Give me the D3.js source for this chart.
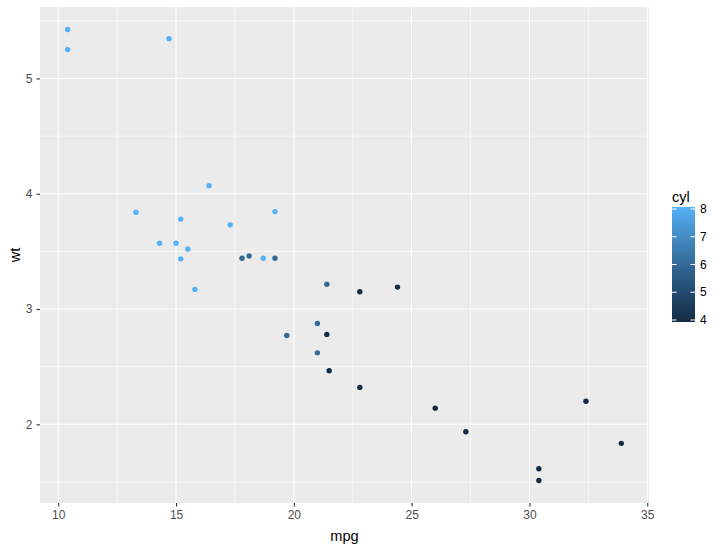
<!DOCTYPE html>
<html>
<head>
<meta charset="utf-8">
<script src="https://cdn.jsdelivr.net/npm/d3@7"></script>
<style>
  body { margin: 0; background: #fff; }
  text { font-family: "Liberation Sans", Arial, sans-serif; }
</style>
</head>
<body>
<div id="chart"></div>
<script>
// mtcars: mpg, wt, cyl
const mpg = [21.0, 21.0, 22.8, 21.4, 18.7, 18.1, 14.3, 24.4, 22.8, 19.2, 17.8, 16.4, 17.3, 15.2, 10.4, 10.4,
  14.7, 32.4, 30.4, 33.9, 21.5, 15.5, 15.2, 13.3, 19.2, 27.3, 26.0, 30.4, 15.8, 19.7, 15.0, 21.4];
const wt = [2.620, 2.875, 2.320, 3.215, 3.440, 3.460, 3.570, 3.190, 3.150, 3.440, 3.440, 4.070, 3.730, 3.780,
  5.250, 5.424, 5.345, 2.200, 1.615, 1.835, 2.465, 3.520, 3.435, 3.840, 3.845, 1.935, 2.140, 1.513, 3.170,
  2.770, 3.570, 2.780];
const cyl = [6, 6, 4, 6, 8, 6, 8, 4, 4, 6, 6, 8, 8, 8, 8, 8, 8, 4, 4, 4, 4, 8, 8, 8, 8, 4, 4, 4, 8, 6, 8, 4];
const xTicks = [10, 15, 20, 25, 30, 35];
const yTicks = [2, 3, 4, 5];
const cylTicks = [4, 5, 6, 7, 8];

const W = 723, H = 550;
const panel = { left: 40, top: 7, right: 649, bottom: 503 };

const svg = d3.select("#chart").append("svg").attr("width", W).attr("height", H);

// ggplot-style 5% expansion
const xr = d3.extent(mpg), yr = d3.extent(wt);
const xe = (xr[1] - xr[0]) * 0.05, ye = (yr[1] - yr[0]) * 0.05;
const x = d3.scaleLinear().domain([xr[0] - xe, xr[1] + xe]).range([panel.left, panel.right]);
const y = d3.scaleLinear().domain([yr[0] - ye, yr[1] + ye]).range([panel.bottom, panel.top]);
const color = d3.scaleLinear().domain([4, 8]).range(["#132B43", "#56B1F7"]).interpolate(d3.interpolateLab);

// panel background
svg.append("rect")
  .attr("x", panel.left).attr("y", panel.top)
  .attr("width", panel.right - panel.left).attr("height", panel.bottom - panel.top)
  .attr("fill", "#EBEBEB");

// minor grid
const xMinor = [7.5, 12.5, 17.5, 22.5, 27.5, 32.5].filter(v => v >= x.domain()[0] && v <= x.domain()[1]);
const yMinor = [1.5, 2.5, 3.5, 4.5, 5.5].filter(v => v >= y.domain()[0] && v <= y.domain()[1]);
const grid = svg.append("g");
grid.selectAll(".xmin").data(xMinor).join("line")
  .attr("x1", d => x(d)).attr("x2", d => x(d)).attr("y1", panel.top).attr("y2", panel.bottom)
  .attr("stroke", "#fff").attr("stroke-width", 0.55);
grid.selectAll(".ymin").data(yMinor).join("line")
  .attr("y1", d => y(d)).attr("y2", d => y(d)).attr("x1", panel.left).attr("x2", panel.right)
  .attr("stroke", "#fff").attr("stroke-width", 0.55);
// major grid
grid.selectAll(".xmaj").data(xTicks).join("line")
  .attr("x1", d => x(d)).attr("x2", d => x(d)).attr("y1", panel.top).attr("y2", panel.bottom)
  .attr("stroke", "#fff").attr("stroke-width", 1.1);
grid.selectAll(".ymaj").data(yTicks).join("line")
  .attr("y1", d => y(d)).attr("y2", d => y(d)).attr("x1", panel.left).attr("x2", panel.right)
  .attr("stroke", "#fff").attr("stroke-width", 1.1);

// axes
const xAxis = svg.append("g").attr("transform", `translate(0,${panel.bottom})`)
  .call(d3.axisBottom(x).tickValues(xTicks).tickFormat(d3.format("d")).tickSize(3.5).tickPadding(4));
const yAxis = svg.append("g").attr("transform", `translate(${panel.left},0)`)
  .call(d3.axisLeft(y).tickValues(yTicks).tickFormat(d3.format("d")).tickSize(3.5).tickPadding(4));
[xAxis, yAxis].forEach(a => {
  a.select(".domain").remove();
  a.selectAll(".tick line").attr("stroke", "#333333").attr("stroke-width", 1.1);
  a.selectAll(".tick text").attr("fill", "#4D4D4D").attr("font-size", "12px")
    .style("font-family", "'Liberation Sans', Arial, sans-serif");
});

// points
svg.append("g").selectAll("circle")
  .data(mpg.map((m, i) => ({ mpg: m, wt: wt[i], cyl: cyl[i] })))
  .join("circle")
  .attr("cx", d => x(d.mpg)).attr("cy", d => y(d.wt)).attr("r", 2.7)
  .attr("fill", d => color(d.cyl));

// axis titles
svg.append("text").attr("x", (panel.left + panel.right) / 2).attr("y", 541)
  .attr("text-anchor", "middle").attr("font-size", "14.6px").attr("fill", "#000").text("mpg");
svg.append("text").attr("transform", `translate(20,${(panel.top + panel.bottom) / 2}) rotate(-90)`)
  .attr("text-anchor", "middle").attr("font-size", "14.6px").attr("fill", "#000").text("wt");

// legend colorbar
const bar = { x: 672, w: 23, top: 207, bottom: 322 };
const lg = svg.append("g");
const defs = svg.append("defs");
const grad = defs.append("linearGradient").attr("id", "cylgrad")
  .attr("x1", "0").attr("y1", "1").attr("x2", "0").attr("y2", "0");
d3.range(0, 1.0001, 0.05).forEach(t => {
  grad.append("stop").attr("offset", t).attr("stop-color", color(4 + 4 * t));
});
lg.append("rect").attr("x", bar.x).attr("y", bar.top).attr("width", bar.w)
  .attr("height", bar.bottom - bar.top).attr("fill", "url(#cylgrad)");
const cy = d3.scaleLinear().domain([4, 8]).range([bar.bottom - 2, bar.top + 2]);
cylTicks.forEach(t => {
  lg.append("line").attr("x1", bar.x).attr("x2", bar.x + 4.6).attr("y1", cy(t)).attr("y2", cy(t))
    .attr("stroke", "#fff").attr("stroke-width", 1);
  lg.append("line").attr("x1", bar.x + bar.w - 4.6).attr("x2", bar.x + bar.w).attr("y1", cy(t)).attr("y2", cy(t))
    .attr("stroke", "#fff").attr("stroke-width", 1);
  lg.append("text").attr("x", bar.x + bar.w + 5).attr("y", cy(t)).attr("dy", "0.35em")
    .attr("font-size", "12px").attr("fill", "#000").text(t);
});
lg.append("text").attr("x", bar.x).attr("y", 202).attr("font-size", "14.6px").attr("fill", "#000").text("cyl");
</script>
</body>
</html>
